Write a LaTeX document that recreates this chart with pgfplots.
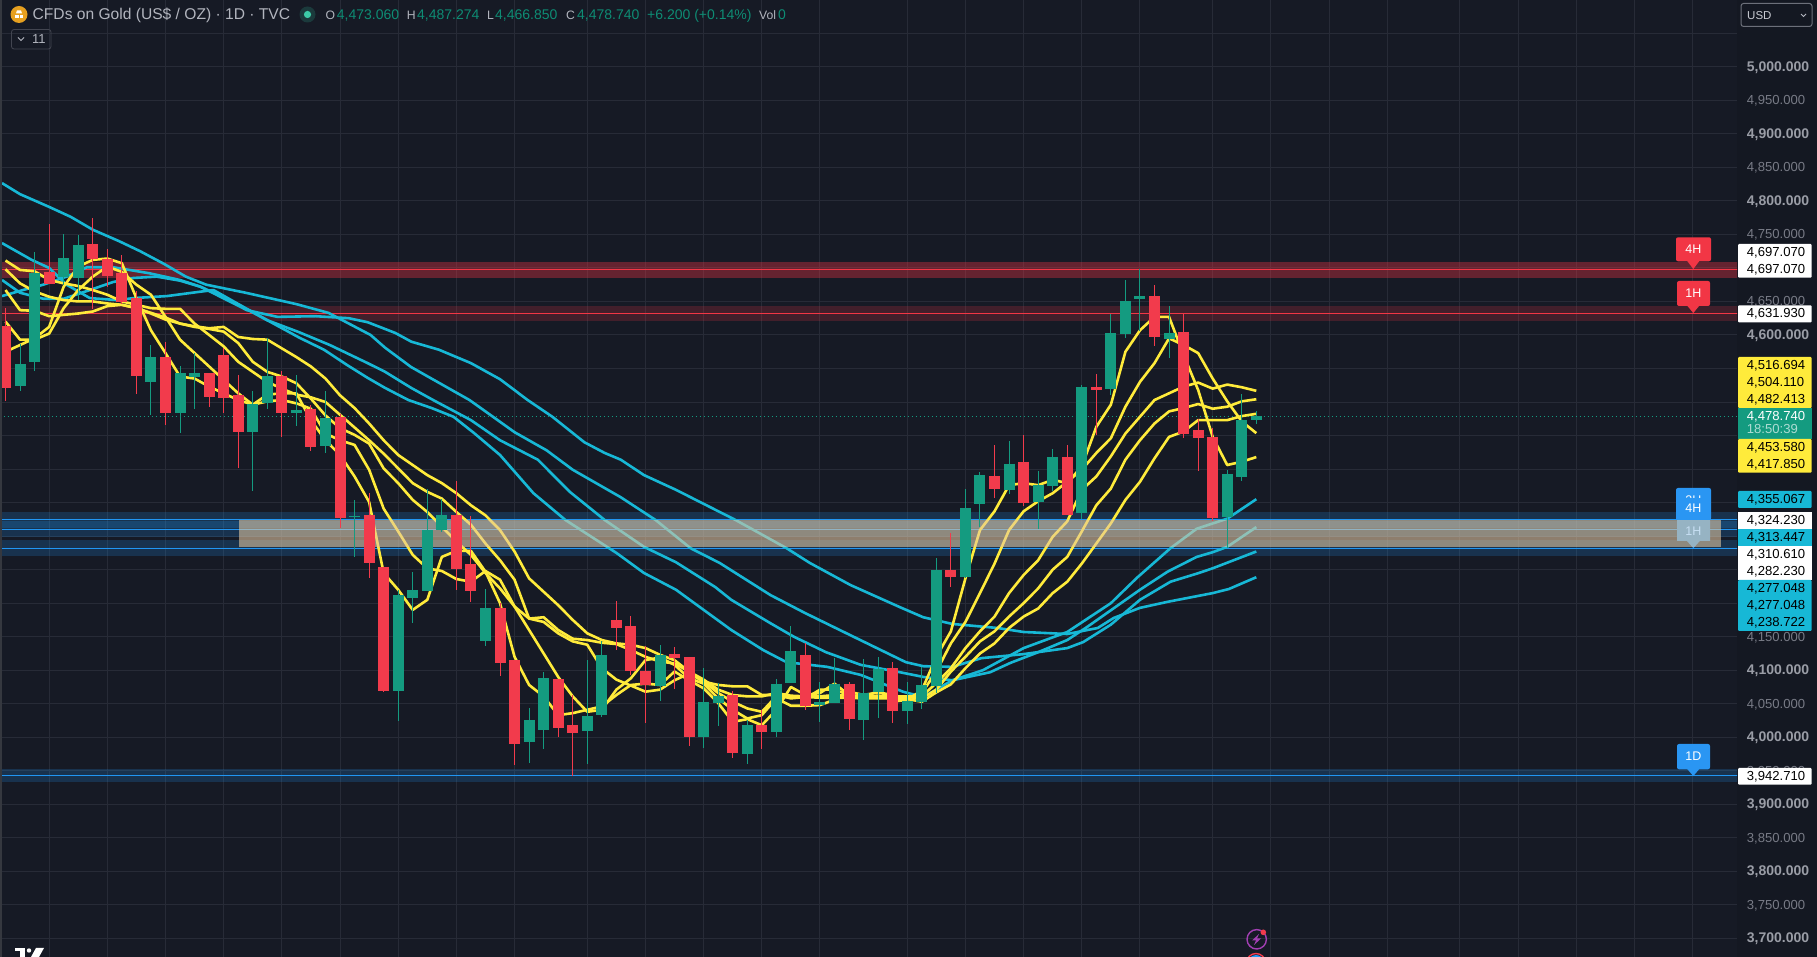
\documentclass[border=0pt]{standalone}
\usepackage{pgfplots}
\usepackage{pgfplotstable}
\usepackage{fontspec}
\pgfplotsset{compat=1.18}
\setmainfont{Liberation Sans}
\definecolor{chartbg}{HTML}{161A25}
\definecolor{scalebg}{HTML}{141822}
\definecolor{gridc}{HTML}{272B37}
\definecolor{upc}{HTML}{149B80}
\definecolor{dnc}{HTML}{F23B4C}
\definecolor{ema}{HTML}{FFEB3B}
\definecolor{cya}{HTML}{17B8D6}
\definecolor{blu}{HTML}{2196F3}
\definecolor{tagb}{HTML}{2A96F3}
\definecolor{tagr}{HTML}{F23645}
\definecolor{tnorm}{HTML}{787B86}
\definecolor{tbold}{HTML}{9A9DA6}
\definecolor{ttl}{HTML}{B2B5BE}
\definecolor{val}{HTML}{0E8C74}
\definecolor{ylab}{HTML}{FFEB3B}
\definecolor{clab}{HTML}{17B8D6}
\definecolor{ecru}{HTML}{E5C8A2}
\definecolor{HdrGold}{HTML}{E6A020}
\definecolor{StatusRing}{HTML}{1B3A3C}
\definecolor{StatusDot}{HTML}{3CCBA7}
\definecolor{IconPurple}{HTML}{A23FB3}
\newcommand\bt[1]{{\bfseries\fontsize{14}{15}\selectfont\color{tbold} #1}}

% bar index, wick top, body top, body bottom, wick bottom
\pgfplotstableread{
i h t b l
1 4587 4557 4524 4516
2 4724 4693 4560 4546
4 4751 4715 4686 4674
5 4749 4734 4685 4652
10 4585 4567 4530 4481
12 4554 4543 4483 4454
13 4573 4543 4537 4490
17 4516 4497 4455 4367
18 4595 4539 4498 4490
20 4541 4488 4484 4464
22 4516 4476 4434 4424
24 4354 4330 4329 4269
27 4220 4212 4069 4024
28 4247 4220 4208 4171
29 4370 4309 4218 4218
30 4355 4332 4309 4306
33 4221 4193 4144 4136
36 4044 4026 3993 3962
37 4097 4088 4011 3983
40 4115 4032 4009 3960
41 4144 4123 4033 4030
45 4138 4123 4077 4054
48 4103 4053 4000 3984
49 4081 4062 4051 4017
51 4026 4018 3975 3960
53 4087 4080 4008 4000
54 4166 4129 4081 4081
56 4083 4053 4048 4023
57 4118 4080 4051 4051
59 4117 4066 4026 3996
60 4120 4102 4068 4029
62 4083 4054 4039 4020
63 4105 4078 4053 4042
64 4267 4250 4077 4066
66 4371 4342 4239 4237
67 4396 4391 4348 4314
69 4442 4408 4369 4363
71 4397 4376 4351 4311
72 4430 4418 4375 4367
74 4525 4522 4335 4326
76 4632 4603 4520 4511
77 4682 4651 4602 4596
78 4698 4658 4654 4606
80 4643 4603 4594 4566
84 4399 4393 4329 4283
85 4512 4473 4388 4382
86 4487.27 4478.74 4473.06 4466.85
}\upcandles
\pgfplotstableread{
i h t b l
0 4640 4613 4521 4502
3 4765 4694 4676 4676
6 4774 4736 4713 4638
7 4728 4714 4688 4671
8 4719 4692 4649 4646
9 4665 4655 4539 4512
11 4590 4567 4483 4466
14 4543 4543 4508 4493
15 4581 4570 4506 4484
16 4540 4511 4455 4402
19 4547 4539 4484 4448
21 4496 4490 4433 4427
23 4482 4478 4327 4312
25 4364 4332 4260 4238
26 4254 4254 4069 4068
31 4382 4332 4251 4220
32 4330 4258 4218 4202
34 4200 4193 4111 4091
35 4115 4115 3990 3959
38 4087 4087 4014 4000
39 4063 4018 4006 3942
42 4203 4175 4163 4130
43 4181 4166 4099 4093
44 4136 4099 4078 4021
46 4135 4124 4118 4072
47 4120 4120 4000 3987
50 4069 4063 3977 3969
52 4041 4018 4008 3983
55 4141 4123 4047 4041
58 4083 4080 4027 4011
61 4112 4103 4039 4021
65 4305 4250 4239 4224
68 4436 4390 4370 4357
70 4451 4411 4349 4345
73 4436 4418 4332 4332
75 4542 4522 4518 4451
79 4675 4658 4597 4584
81 4632 4605 4452 4446
82 4474 4458 4446 4397
83 4461 4448 4327 4322
}\dncandles
% five yellow averages by bar
\pgfplotstableread{
i s1 s2 s3 s4 s5
0 4575 4620 4667 4698 4711
1 4585 4593 4637 4677 4697
2 4595 4593 4636 4665 4695
3 4612 4602 4628 4657 4682
4 4672 4640 4630 4652 4677
5 4702 4667 4632 4650 4673
6 4712 4687 4635 4650 4667
7 4714 4702 4643 4647 4660
8 4707 4694 4645 4645 4650
9 4655 4675 4640 4640 4645
10 4607 4660 4633 4632 4640
11 4573 4627 4626 4623 4639
12 4538 4593 4617 4617 4639
13 4535 4573 4612 4613 4617
14 4523 4553 4609 4610 4600
15 4513 4533 4605 4612 4583
16 4503 4513 4588 4597 4560
17 4496 4496 4560 4594 4545
18 4511 4501 4545 4593 4530
19 4513 4503 4538 4580 4520
20 4513 4498 4528 4567 4511
21 4473 4490 4505 4553 4507
22 4443 4453 4480 4535 4500
23 4421 4443 4461 4510 4481
24 4389 4436 4451 4491 4462
25 4351 4399 4438 4468 4443
26 4245 4341 4401 4443 4423
27 4220 4307 4379 4421 4401
28 4190 4272 4354 4406 4379
29 4205 4252 4336 4391 4366
30 4269 4248 4314 4379 4356
31 4278 4236 4292 4364 4336
32 4278 4232 4272 4346 4317
33 4247 4248 4245 4331 4289
34 4200 4235 4222 4309 4264
35 4120 4195 4195 4277 4235
36 4078 4160 4177 4237 4177
37 4061 4125 4172 4217 4179
38 4033 4090 4155 4197 4160
39 4036 4061 4143 4175 4147
40 4041 4038 4138 4155 4145
41 4046 4041 4103 4145 4141
42 4063 4071 4086 4140 4139
43 4078 4088 4077 4138 4130
44 4080 4115 4068 4133 4120
45 4078 4119 4071 4123 4113
46 4098 4108 4085 4115 4110
47 4085 4088 4095 4098 4098
48 4073 4080 4083 4083 4086
49 4051 4058 4066 4078 4071
50 4023 4041 4053 4076 4063
51 4027 4028 4043 4076 4061
52 4018 4033 4038 4063 4061
53 4041 4058 4061 4063 4066
54 4075 4047 4061 4058 4062
55 4063 4047 4058 4060 4061
56 4066 4048 4071 4059 4061
57 4080 4056 4071 4059 4063
58 4063 4068 4063 4059 4062
59 4056 4063 4061 4058 4061
60 4071 4067 4062 4058 4061
61 4053 4063 4061 4058 4061
62 4056 4058 4061 4057 4060
63 4070 4066 4061 4053 4058
64 4120 4098 4081 4067 4071
65 4158 4140 4103 4079 4098
66 4237 4172 4133 4103 4120
67 4309 4215 4158 4125 4143
68 4337 4259 4180 4140 4158
69 4376 4309 4215 4163 4180
70 4379 4337 4242 4180 4200
71 4376 4352 4264 4192 4222
72 4384 4364 4299 4215 4250
73 4379 4381 4322 4232 4269
74 4404 4399 4369 4259 4307
75 4463 4424 4389 4289 4346
76 4496 4446 4419 4319 4371
77 4575 4493 4453 4354 4414
78 4607 4530 4478 4381 4443
79 4627 4558 4503 4416 4468
80 4627 4595 4513 4448 4486
81 4570 4585 4523 4456 4491
82 4518 4573 4529 4473 4497
83 4448 4535 4520 4473 4490
84 4406 4501 4526 4473 4493
85 4411 4471 4522 4479 4501
86 4417.85 4453.58 4516.69 4482.41 4504.11
}\yellows

\begin{document}
\begin{tikzpicture}[x=1pt,y=1pt]
\fill[scalebg] (0,0) rectangle (1817,957);
\useasboundingbox (0,0) rectangle (1817,957);
\begin{axis}[
  at={(0pt,0pt)},anchor=south west,scale only axis,
  width=1737pt,height=957pt,
  xmin=-0.378,xmax=119.05,ymin=3672.3,ymax=5099.6,
  axis line style={draw=none},
  axis background/.style={fill=chartbg},
  major tick length=0pt,
  xtick={3,7,11,15,19,23,27,31,35,40,44,48,52,56,62,66,70,74,78,83,87,91,95,100,104,108,112,116},
  xticklabels={},
  ytick={3700,3750,3800,3850,3900,3950,4000,4050,4100,4150,4200,4250,4300,4350,4400,4450,4500,4550,4600,4650,4700,4750,4800,4850,4900,4950,5000,5050},
  yticklabels={\bt{3,700.000},{3,750.000},\bt{3,800.000},{3,850.000},\bt{3,900.000},{3,950.000},\bt{4,000.000},{4,050.000},\bt{4,100.000},{4,150.000},{},{},{},{},{},{},{},{},\bt{4,600.000},{4,650.000},{},{4,750.000},\bt{4,800.000},{4,850.000},\bt{4,900.000},{4,950.000},\bt{5,000.000},{}},
  yticklabel pos=right,
  yticklabel style={anchor=west,inner sep=0pt,xshift=9.7pt,text height=9pt,text depth=0pt,text=tnorm,font=\fontsize{13.1}{14}\selectfont},
  grid=major,
  grid style={gridc,line width=1pt},
  every axis plot/.append style={forget plot},
]
% zones
\addplot[fill=tagr,fill opacity=.2,draw=none] coordinates {(-0.4,4685.37)(119.1,4685.37)(119.1,4708.77)(-0.4,4708.77)} -- cycle;
\addplot[fill=tagr,fill opacity=.2,draw=none] coordinates {(-0.4,4685.37)(119.1,4685.37)(119.1,4708.77)(-0.4,4708.77)} -- cycle;
\addplot[fill=tagr,fill opacity=.2,draw=none] coordinates {(-0.4,4620.23)(119.1,4620.23)(119.1,4643.63)(-0.4,4643.63)} -- cycle;
\addplot[fill=blu,fill opacity=.2,draw=none] coordinates {(-0.4,4312.53)(119.1,4312.53)(119.1,4335.93)(-0.4,4335.93)} -- cycle;
\addplot[fill=blu,fill opacity=.2,draw=none] coordinates {(-0.4,4298.91)(119.1,4298.91)(119.1,4322.31)(-0.4,4322.31)} -- cycle;
\addplot[fill=blu,fill opacity=.2,draw=none] coordinates {(-0.4,4270.53)(119.1,4270.53)(119.1,4293.93)(-0.4,4293.93)} -- cycle;
\addplot[fill=blu,fill opacity=.2,draw=none] coordinates {(-0.4,3933)(119.1,3933)(119.1,3952.4)(-0.4,3952.4)} -- cycle;
\addplot[tagr,line width=1pt] coordinates {(-0.4,4697.07)(119.1,4697.07)};
\addplot[tagr,line width=1pt] coordinates {(-0.4,4631.93)(119.1,4631.93)};
\addplot[blu,line width=1pt] coordinates {(-0.4,4324.23)(119.1,4324.23)};
\addplot[blu,line width=1pt] coordinates {(-0.4,4310.61)(119.1,4310.61)};
\addplot[blu,line width=1pt] coordinates {(-0.4,4282.23)(119.1,4282.23)};
\addplot[blu,line width=1pt] coordinates {(-0.4,3942.71)(119.1,3942.71)};
% last price line
\addplot[upc,line width=1pt,dash pattern=on 1pt off 3pt] coordinates {(-0.4,4478.74)(119.1,4478.74)};
% cyan averages
\addplot[cya,line width=2.6pt,line join=round] coordinates {(-0.24,4826.5)(1,4810)(3,4791)(4.5,4776)(6,4757)(7.8,4740)(9.25,4725)(10.9,4706)(12.4,4687)(13.8,4675)(16.5,4663)(20,4646)(22.2,4633)(25.1,4600)(26.1,4581)(27.9,4552)(30.1,4525)(31.9,4503)(35,4455)(37.2,4428)(39,4399)(42.3,4358)(44.7,4324)(47.1,4282)(49.1,4260)(52.6,4212)(55,4185)(58.3,4150)(61.9,4112)(63.1,4106)(65.1,4105)(67.1,4118)(70,4124)(73,4133)(74.1,4142)(76,4168)(78,4205)(80.1,4232)(81.9,4244)(83,4252)(86,4277.05)};
\addplot[cya,line width=2.6pt,line join=round] coordinates {(-0.24,4658)(1.2,4667)(2.6,4675)(4.2,4687)(5.6,4701)(7.4,4701)(9.9,4692)(12,4682)(13.4,4672)(14.5,4660)(16.6,4637)(18.7,4627)(21.3,4628)(23.6,4625)(24.9,4619)(26.8,4603)(27.9,4590)(29.8,4578)(32,4558)(34,4534)(35.9,4503)(37.6,4478)(39.8,4440)(41.2,4424)(42.3,4414)(43.9,4391)(46.1,4369)(50.2,4324)(53.7,4282)(55.3,4260)(58.1,4227)(61.5,4194)(63.1,4179)(65.1,4169)(68.2,4163)(70,4157)(73,4154)(75.1,4163)(76.2,4178)(78,4193)(79.9,4202)(83,4215)(84.1,4221)(86,4238.72)};
\addplot[cya,line width=2.6pt,line join=round] coordinates {(-0.24,4682)(1,4663)(2.6,4654)(4,4654)(5.8,4667)(7.4,4679)(8.8,4685)(10.4,4687)(12,4681)(13.4,4672)(15.4,4652)(18,4622)(20.2,4604)(22.3,4585)(24.9,4558)(26.1,4545)(27.9,4521)(29.4,4503)(32,4473)(34,4443)(36.6,4414)(38.8,4366)(41.2,4324)(43.9,4284)(46.1,4261)(48.8,4224)(49.9,4205)(52.6,4170)(54.2,4150)(56.4,4127)(58.8,4108)(61.5,4097)(63.1,4090)(65.1,4085)(67.7,4097)(69.1,4111)(70.9,4126)(73,4145)(74.4,4165)(78,4220)(79.9,4247)(81.9,4269)(83,4276)(84,4284)(86,4313.45)};
\addplot[cya,line width=2.6pt,line join=round] coordinates {(-0.24,4737)(1.8,4712)(3,4700)(4.2,4675)(5.8,4655)(7.7,4652)(8.8,4655)(11.1,4658)(13.2,4664)(14.3,4667)(16.1,4645)(18,4622)(20.2,4596)(21.9,4578)(23.5,4555)(24.9,4536)(26.1,4521)(27.7,4503)(29.3,4491)(30.8,4478)(32.2,4454)(34,4421)(36.3,4364)(38.5,4324)(42,4275)(43.9,4245)(46.1,4220)(49.9,4160)(52.1,4130)(53.7,4112)(56.5,4105)(58.8,4093)(61.7,4068)(63.1,4060)(65.1,4085)(65.8,4090)(67.2,4100)(70,4133)(73,4157)(76,4200)(77.8,4238)(80.1,4282)(81.9,4311)(84,4326)(86,4355.07)};
% yellow averages
\addplot[ema,line width=2.6pt,line join=round] table[x=i,y=s5] {\yellows};
\addplot[ema,line width=2.6pt,line join=round] table[x=i,y=s4] {\yellows};
\addplot[ema,line width=2.6pt,line join=round] table[x=i,y=s3] {\yellows};
\addplot[ema,line width=2.6pt,line join=round] table[x=i,y=s2] {\yellows};
\addplot[ema,line width=2.6pt,line join=round] table[x=i,y=s1] {\yellows};
% tag under the beige box
\addplot[fill=tagb,draw=none] coordinates {(114.93,4348)(117.2,4348)(117.2,4293)(116.5,4293)(116.05,4282)(115.6,4293)(114.93,4293)} -- cycle;
% beige box
\addplot[fill=ecru,fill opacity=.58,draw=none] coordinates {(16.05,4323.6)(117.95,4323.6)(117.95,4283.8)(16.05,4283.8)} -- cycle;
\node[text=white!72!tagb!90!ecru,font=\fontsize{12.5}{13}\selectfont] at (axis cs:116.05,4307) {1H};
% candles
\addplot[draw=none,mark=none,error bars/.cd,y dir=both,y explicit,error mark=none,error bar style={upc,line width=1pt}] table[x=i,y=t,y error plus expr=\thisrow{h}-\thisrow{t},y error minus expr=\thisrow{t}-\thisrow{l}] {\upcandles};
\addplot[draw=none,mark=none,error bars/.cd,y dir=both,y explicit,error mark=none,error bar style={dnc,line width=1pt}] table[x=i,y=t,y error plus expr=\thisrow{h}-\thisrow{t},y error minus expr=\thisrow{t}-\thisrow{l}] {\dncandles};
\addplot[draw=none,mark=none,error bars/.cd,y dir=minus,y explicit,error mark=none,error bar style={upc,line width=11pt,line cap=butt}] table[x=i,y=t,y error minus expr=\thisrow{t}-\thisrow{b}] {\upcandles};
\addplot[draw=none,mark=none,error bars/.cd,y dir=minus,y explicit,error mark=none,error bar style={dnc,line width=11pt,line cap=butt}] table[x=i,y=t,y error minus expr=\thisrow{t}-\thisrow{b}] {\dncandles};
\end{axis}
\begin{scope}[yshift=957pt,y=-1pt]
\fill[black!20!chartbg!85!white] (0,0) rectangle (2,957);
\def\lx{1746.7}
\newcommand\pl[3]{\node[anchor=base west,inner sep=0pt,text=#1,font=\fontsize{13.1}{14}\selectfont] at (\lx,#2+4.5) {#3};}
\fill[white,rounded corners=1pt] (1738,244) rectangle (1811.7,277.7);
\pl{black}{251.7}{4,697.070}\pl{black}{268.7}{4,697.070}
\fill[white,rounded corners=1pt] (1738,305.3) rectangle (1811.7,322.3);
\pl{black}{312.7}{4,631.930}
\fill[ylab,rounded corners=1pt] (1738,357) rectangle (1811.7,408);
\pl{black}{364.7}{4,516.694}\pl{black}{381.7}{4,504.110}\pl{black}{398.7}{4,482.413}
\fill[upc] (1738,408) rectangle (1811.7,439);
\pl{white}{415.7}{4,478.740}\pl{white!65!upc}{429.3}{18:50:39}
\fill[ylab,rounded corners=1pt] (1738,439) rectangle (1811.7,472.7);
\pl{black}{446.7}{4,453.580}\pl{black}{463.7}{4,417.850}
\fill[clab,rounded corners=1pt] (1738,491) rectangle (1811.7,508);
\pl{black}{498.7}{4,355.067}
\fill[white] (1738,512.3) rectangle (1811.7,529.3);
\pl{black}{519.7}{4,324.230}
\fill[clab] (1738,529.3) rectangle (1811.7,546);
\pl{black}{536.7}{4,313.447}
\fill[white] (1738,546) rectangle (1811.7,580);
\pl{black}{553.7}{4,310.610}\pl{black}{570.7}{4,282.230}
\fill[clab,rounded corners=1pt] (1738,580) rectangle (1811.7,631);
\pl{black}{587.7}{4,277.048}\pl{black}{604.7}{4,277.048}\pl{black}{621.7}{4,238.722}
\fill[white,rounded corners=1pt] (1738,768) rectangle (1811.7,784.7);
\pl{black}{776}{3,942.710}
% tags
\newcommand\tg[6]{\fill[#1,rounded corners=2pt] (#2,#3) rectangle (#4,#5);
  \fill[#1] (1687,#5-.5) -- (1699.5,#5-.5) -- (1693.3,#6) -- cycle;}
\tg{tagr}{1676}{237.3}{1711}{261.3}{269}
\node[text=white,font=\fontsize{12.5}{13}\selectfont] at (1693.3,249.5) {4H};
\tg{tagr}{1677}{281}{1710}{306}{313}
\node[text=white,font=\fontsize{12.5}{13}\selectfont] at (1693.3,293.5) {1H};
\tg{tagb}{1677}{744}{1710}{769.3}{776}
\node[text=white,font=\fontsize{12.5}{13}\selectfont] at (1693.3,756.5) {1D};
\fill[tagb,rounded corners=2pt] (1676,488) rectangle (1711,520);
\node[text=white,font=\fontsize{12.5}{13}\selectfont] at (1693.3,500) {2H};
\fill[tagb] (1676,498) rectangle (1711,520);
\node[text=white,font=\fontsize{12.5}{13}\selectfont] at (1693.3,508.3) {4H};
% header
\fill[HdrGold] (19,14.5) circle (8.5);
\fill[white] (17,10.5) -- (21,10.5) -- (22,13.5) -- (16,13.5) -- cycle;
\fill[white] (14.8,15) rectangle (18.5,18.5);\fill[white] (19.5,15) rectangle (23.2,18.5);
\node[anchor=base west,inner sep=0pt,text=ttl,font=\fontsize{15.6}{16}\selectfont] at (32.5,19.8) {CFDs on Gold (US\$ / OZ) · 1D · TVC};
\fill[StatusRing] (307.5,14.5) circle (8);
\fill[StatusDot] (307.5,14.5) circle (3.6);
\newcommand\hd[3]{\node[anchor=base west,inner sep=0pt,text=#1,font=\fontsize{14}{15}\selectfont] at (#2,19.4) {#3};}
\newcommand\hl[2]{\node[anchor=base west,inner sep=0pt,text=ttl,font=\fontsize{12.2}{13}\selectfont] at (#1,19.4) {#2};}
\hl{325.5}{O}\hd{val}{336.7}{4,473.060}
\hl{406.6}{H}\hd{val}{417}{4,487.274}
\hl{487}{L}\hd{val}{495}{4,466.850}
\hl{566}{C}\hd{val}{577}{4,478.740}
\hd{val}{647}{+6.200 (+0.14\%)}
\hl{759}{Vol}\hd{val}{778}{0}
\draw[gridc!60!ttl!60!chartbg,line width=.8pt,rounded corners=2.5pt] (11.5,29.5) rectangle (51,49);
\draw[ttl,line width=1pt] (18,37.5) -- (21,40.5) -- (24,37.5);
\node[anchor=base west,inner sep=0pt,text=ttl,font=\fontsize{13}{14}\selectfont] at (32,44) {11};
\draw[gridc!50!ttl,line width=1pt,rounded corners=2.5pt] (1741,3.5) rectangle (1812,26.5);
\node[anchor=base west,inner sep=0pt,text=ttl!70!white,font=\fontsize{11.5}{12}\selectfont] at (1747,19.2) {USD};
\draw[ttl,line width=1pt] (1801,14) -- (1803.5,16.5) -- (1806,14);
% icons
\draw[IconPurple,line width=1.4pt] (1256.7,939.3) circle (9.7);
\fill[IconPurple] (1259,934) -- (1252,940.5) -- (1256,940.5) -- (1254,945) -- (1261,938.5) -- (1257,938.5) -- cycle;
\fill[dnc] (1263.3,932.3) circle (2.8);
\fill[blu] (1256,963) circle (8);
\draw[dnc,line width=1.4pt] (1256,963) circle (9.5);
% chart logo
\fill[white] (15,948) rectangle (25,951.5);\fill[white] (20,951.5) rectangle (25,957);
\fill[white] (29,950.5) circle (2.2);
\fill[white] (36,948) -- (44,948) -- (39,957) -- (31,957) -- cycle;
\end{scope}
\end{tikzpicture}
\end{document}
